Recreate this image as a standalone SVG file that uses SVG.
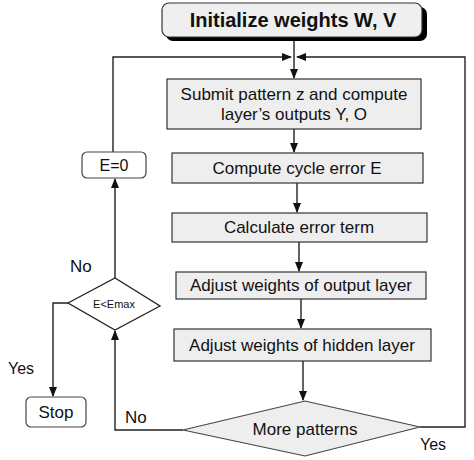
<svg xmlns="http://www.w3.org/2000/svg" width="474" height="460" viewBox="0 0 474 460">
<style>
text{font-family:"Liberation Sans",Arial,sans-serif;fill:#111;}
.box{fill:#eeeeee;stroke:#333;stroke-width:1.2;}
.rbox{fill:#fff;stroke:#444;stroke-width:1.2;}
.lbl{font-size:17px;text-anchor:middle;}
.con{fill:none;stroke:#222;stroke-width:1.4;}
</style>
<defs>
<marker id="ah" markerWidth="10" markerHeight="8" refX="9" refY="4" orient="auto" markerUnits="userSpaceOnUse">
<path d="M0,0 L10,4 L0,8 Z" fill="#111"/>
</marker>
</defs>
<rect width="474" height="460" fill="#fff"/>
<g id="connectors">
<path class="con" d="M294,40 V78" marker-end="url(#ah)"/>
<path class="con" d="M113,152 V57 H291" marker-end="url(#ah)"/>
<path class="con" d="M420,427 H465 V57 H297" marker-end="url(#ah)"/>
<path class="con" d="M294,129 V152" marker-end="url(#ah)"/>
<path class="con" d="M297,183 V212" marker-end="url(#ah)"/>
<path class="con" d="M299,242 V271" marker-end="url(#ah)"/>
<path class="con" d="M301,299 V328" marker-end="url(#ah)"/>
<path class="con" d="M303,361 V400" marker-end="url(#ah)"/>
<path class="con" d="M183,430 H115 V331" marker-end="url(#ah)"/>
<path class="con" d="M115,278 V179" marker-end="url(#ah)"/>
<path class="con" d="M68,303 H53 V396" marker-end="url(#ah)"/>
</g>
<g id="init">
<rect x="166" y="7" width="261" height="34" rx="7" fill="#000"/>
<rect x="162" y="3" width="260" height="34" rx="7" fill="#efefef" stroke="#333" stroke-width="1.2"/>
<text x="293" y="27" font-size="20px" font-weight="bold" text-anchor="middle">Initialize weights W, V</text>
</g>
<g id="submit">
<rect class="box" x="167" y="79" width="254" height="50"/>
<text class="lbl" x="294" y="100">Submit pattern z and compute</text>
<text class="lbl" x="294" y="120">layer’s outputs Y, O</text>
</g>
<g id="compute">
<rect class="box" x="172" y="153" width="251" height="30"/>
<text class="lbl" x="297" y="174">Compute cycle error E</text>
</g>
<g id="calc">
<rect class="box" x="172" y="213" width="255" height="29"/>
<text class="lbl" x="299" y="233">Calculate error term</text>
</g>
<g id="outw">
<rect class="box" x="176" y="272" width="250" height="27"/>
<text class="lbl" x="301" y="291">Adjust weights of output layer</text>
</g>
<g id="hidw">
<rect class="box" x="174" y="329" width="257" height="32"/>
<text class="lbl" x="302" y="351">Adjust weights of hidden layer</text>
</g>
<g id="more">
<polygon points="183,430 305,401 420,427 305,456" fill="#eeeeee" stroke="#444" stroke-width="1.2"/>
<text class="lbl" x="305" y="435">More patterns</text>
</g>
<g id="e0">
<rect class="rbox" x="82" y="152" width="64" height="26" rx="5"/>
<text x="114" y="171" font-size="16px" text-anchor="middle">E=0</text>
</g>
<g id="emax">
<polygon points="68,303 115,278 160,306 115,330" fill="#fff" stroke="#222" stroke-width="1.3"/>
<text x="114" y="308" font-size="11px" text-anchor="middle">E&lt;Emax</text>
</g>
<g id="stop">
<rect class="rbox" x="26" y="397" width="60" height="30" rx="5"/>
<text x="56" y="418" font-size="17px" text-anchor="middle">Stop</text>
</g>
<g id="labels">
<text x="70" y="272" font-size="17px">No</text>
<text x="8" y="374" font-size="16px">Yes</text>
<text x="125" y="423" font-size="17px">No</text>
<text x="420" y="450" font-size="16px">Yes</text>
</g>
</svg>
